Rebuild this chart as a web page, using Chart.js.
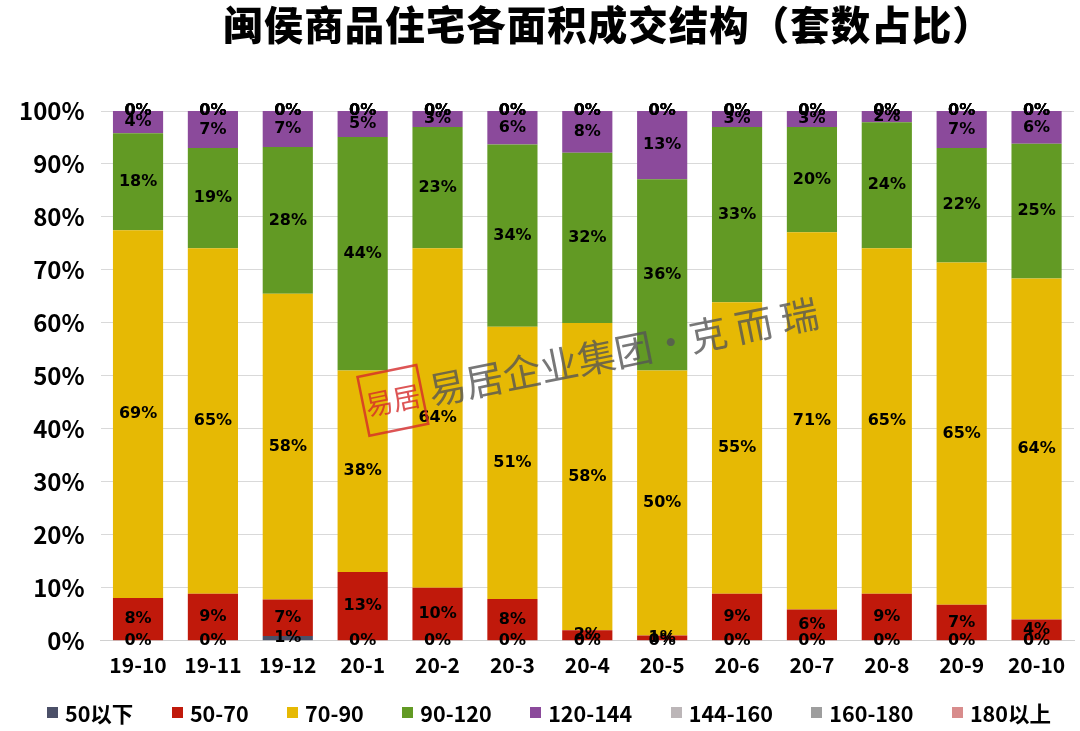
<!DOCTYPE html>
<html>
<head>
<meta charset="utf-8">
<script src="https://cdn.jsdelivr.net/npm/chart.js@4.4.1/dist/chart.umd.min.js"></script>
<style>
  html, body { margin: 0; padding: 0; background: #fff; }
  #wrap { position: relative; width: 1080px; height: 731px; overflow: hidden; }
  #title {
    position: absolute; left: 0; top: -6px; width: 1216px; text-align: center;
    font-family: "Noto Sans CJK SC", sans-serif; font-weight: 900; font-size: 39.5px;
    color: #000; letter-spacing: 1px;
  }
  #chart { position: absolute; left: 0; top: 0; }
  #legend {
    position: absolute; left: 47px; top: 698px; height: 28px;
    display: flex; align-items: center; gap: 38.5px;
    font-family: "Noto Sans CJK SC", sans-serif; font-weight: bold; font-size: 21.5px; color: #000;
  }
  #legend span.item { display: flex; align-items: center; white-space: nowrap; }
  #legend i { display: inline-block; width: 11px; height: 11px; margin-right: 7px; }
</style>
</head>
<body>
<div id="wrap">
  <canvas id="chart" width="1080" height="731"></canvas>
  <div id="title">闽侯商品住宅各面积成交结构（套数占比）</div>
  <div id="legend"></div>
</div>
<script>
"use strict";

const months = ["19-10", "19-11", "19-12", "20-1", "20-2", "20-3", "20-4", "20-5", "20-6", "20-7", "20-8", "20-9", "20-10"];

// share of units sold per size band, in %
const below50   = [0, 0, 0.9, 0, 0, 0, 0, 0, 0, 0, 0, 0, 0];
const s50to70   = [8.1, 8.9, 6.9, 13.0, 10.0, 7.9, 2.0, 1.0, 8.9, 5.9, 8.9, 6.8, 4.0];
const s70to90   = [69.4, 65.2, 57.7, 38.0, 64.1, 51.4, 58.0, 50.0, 55.0, 71.2, 65.2, 64.6, 64.4];
const s90to120  = [18.3, 18.9, 27.7, 44.1, 22.9, 34.4, 32.1, 36.1, 33.1, 19.9, 23.8, 21.6, 25.4];
const s120to144 = [4.2, 7.0, 6.8, 4.9, 3.0, 6.3, 7.9, 12.9, 3.0, 3.0, 2.1, 7.0, 6.2];
const s144to160 = [0, 0, 0, 0, 0, 0, 0, 0, 0, 0, 0, 0, 0];
const s160to180 = [0, 0, 0, 0, 0, 0, 0, 0, 0, 0, 0, 0, 0];
const above180  = [0, 0, 0, 0, 0, 0, 0, 0, 0, 0, 0, 0, 0];

const yTicks = [0, 10, 20, 30, 40, 50, 60, 70, 80, 90, 100];

const font = "'Noto Sans CJK SC', 'Noto Sans', sans-serif";

// draws the percentage in the middle of every segment
const segmentLabels = {
  id: "segmentLabels",
  afterDatasetsDraw(chart) {
    const ctx = chart.ctx;
    ctx.save();
    ctx.font = "bold 16px 'DejaVu Sans', sans-serif";
    ctx.fillStyle = "#000";
    ctx.textAlign = "center";
    ctx.textBaseline = "middle";
    chart.data.datasets.forEach((ds, i) => {
      const meta = chart.getDatasetMeta(i);
      meta.data.forEach((bar, j) => {
        const mid = (bar.y + bar.base) / 2;
        ctx.fillText(Math.round(ds.data[j]) + "%", bar.x, mid);
      });
    });
    ctx.restore();
  }
};

// faint logo text over the plot
const watermark = {
  id: "watermark",
  afterDatasetsDraw(chart) {
    const ctx = chart.ctx;
    ctx.save();
    ctx.translate(600, 340);
    ctx.rotate(-0.2);
    ctx.globalAlpha = 0.8;
    ctx.strokeStyle = "#d42a2a";
    ctx.lineWidth = 2.5;
    ctx.strokeRect(-245, -12, 60, 60);
    ctx.fillStyle = "#d42a2a";
    ctx.font = "28px " + font;
    ctx.textBaseline = "middle";
    ctx.fillText("易居", -243, 18);
    ctx.fillStyle = "#555";
    ctx.font = "38px " + font;
    ctx.fillText("易居企业集团·克 而 瑞", -178, 16);
    ctx.restore();
  }
};

const colors = ["#4b5068", "#c0190b", "#e6b904", "#629a24", "#8b4a9b", "#bcb6b8", "#9e9e9e", "#d88c8c"];
const names = ["50以下", "50-70", "70-90", "90-120", "120-144", "144-160", "160-180", "180以上"];
const series = [below50, s50to70, s70to90, s90to120, s120to144, s144to160, s160to180, above180];

// legend row under the chart
const legend = document.getElementById("legend");
names.forEach((n, i) => {
  const item = document.createElement("span");
  item.className = "item";
  const box = document.createElement("i");
  box.style.background = colors[i];
  item.appendChild(box);
  item.appendChild(document.createTextNode(n));
  legend.appendChild(item);
});

new Chart(document.getElementById("chart"), {
  type: "bar",
  data: {
    labels: months,
    datasets: series.map((d, i) => ({
      label: names[i],
      data: d,
      backgroundColor: colors[i],
      borderWidth: 0,
      barPercentage: 0.67,
      categoryPercentage: 1
    }))
  },
  options: {
    responsive: false,
    animation: false,
    layout: { padding: { top: 111, right: 6, left: 3, bottom: 49 } },
    plugins: {
      legend: { display: false },
      tooltip: { enabled: false }
    },
    scales: {
      x: {
        stacked: true,
        grid: { display: false },
        border: { color: "#d0d0d0" },
        ticks: {
          font: { family: font, size: 21, weight: "bold" },
          color: "#000",
          padding: 4
        }
      },
      y: {
        stacked: true,
        min: 0,
        max: 100,
        afterBuildTicks(axis) {
          axis.ticks = yTicks.map(v => ({ value: v }));
        },
        grid: { color: "#d9d9d9", drawTicks: false },
        border: { display: false },
        ticks: {
          font: { family: font, size: 24, weight: "bold" },
          color: "#000",
          padding: 16,
          callback: v => v + "%"
        }
      }
    }
  },
  plugins: [segmentLabels, watermark]
});
</script>
</body>
</html>
